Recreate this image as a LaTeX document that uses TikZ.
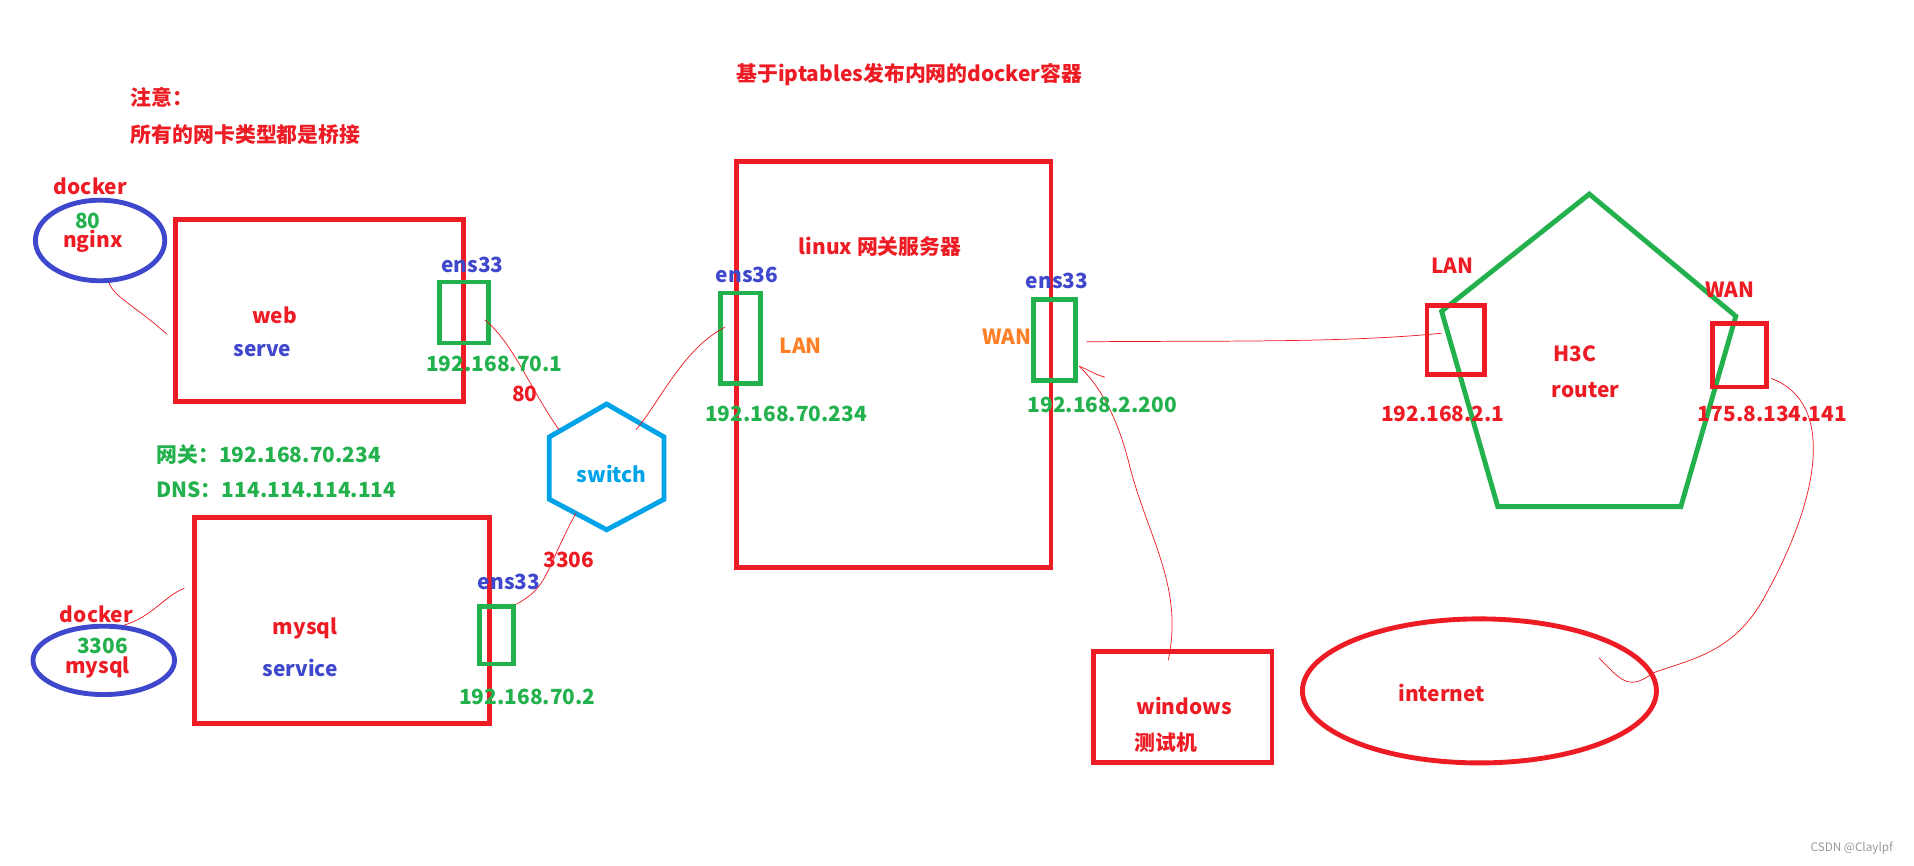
\documentclass[tikz,border=0pt]{standalone}
\usepackage{fontspec}
\setmainfont{Noto Sans CJK SC}
\usetikzlibrary{shapes.geometric}
\definecolor{pred}{HTML}{ED1C24}
\definecolor{pgreen}{HTML}{22B14C}
\definecolor{pblue}{HTML}{3F48CC}
\definecolor{pcyan}{HTML}{00A2E8}
\definecolor{porange}{HTML}{FF7F27}
\begin{document}
\begin{tikzpicture}[
        x = 1pt, y = -1pt,
        box/.style = {draw = pred, line width = 4pt, inner sep = 0mm},
        nic/.style = {draw = pgreen, line width = 4pt, inner sep = 0mm},
        port/.style = {draw = pred, line width = 4pt, inner sep = 0mm},
        oval/.style = {draw, ellipse, line width = 4pt, inner sep = 0mm},
        wire/.style = {draw = pred, line width = 0.6pt},
        txt/.style = {inner sep = 0mm, font = \fontsize{17.1}{20}\selectfont\bfseries},
        rt/.style = {txt, text = pred},
        gt/.style = {txt, text = pgreen},
        bt/.style = {txt, text = pblue},
        ot/.style = {txt, text = porange},
    ]
    \useasboundingbox (0,0) rectangle (1568,709);

    % boxes
    \node (web) [box, minimum width = 236pt, minimum height = 149pt] at (262,254.5){};
    \node (db) [box, minimum width = 242pt, minimum height = 169pt] at (280,508.5){};
    \node (gw) [box, minimum width = 258pt, minimum height = 333pt] at (732,298.5){};
    \node (win) [box, minimum width = 146pt, minimum height = 91pt] at (969,579.5){};
    \node (net) [oval, draw = pred, minimum width = 290pt, minimum height = 118pt] at (1212,566){};
    \node (nginx) [oval, draw = pblue, minimum width = 106pt, minimum height = 66pt] at (82,197){};
    \node (dbdocker) [oval, draw = pblue, minimum width = 116pt, minimum height = 56pt] at (85,541){};

    % switch and router
    \draw[pcyan, line width = 4pt] (497,331) -- (544,358) -- (544,409) -- (497,434) -- (450,409) -- (450,358) -- cycle;
    \draw[pgreen, line width = 4pt] (1302,159) -- (1422,259) -- (1377,415) -- (1227,415) -- (1181,255) -- cycle;

    % network cards
    \node (nicweb) [nic, minimum width = 40pt, minimum height = 50pt] at (380,256){};
    \node (nicdb) [nic, minimum width = 28pt, minimum height = 47pt] at (407,520.5){};
    \node (niclan) [nic, minimum width = 33pt, minimum height = 74pt] at (606.5,277){};
    \node (nicwan) [nic, minimum width = 34pt, minimum height = 67pt] at (864,278.5){};
    \node (rlan) [port, minimum width = 47pt, minimum height = 57pt] at (1192.5,278.5){};
    \node (rwan) [port, minimum width = 44pt, minimum height = 52pt] at (1425,291){};

    % free ends
    \coordinate (webin) at (137,274);
    \coordinate (swnw) at (458,352);
    \coordinate (swne) at (521,352);
    \coordinate (swsw) at (472,420);
    \coordinate (lanin) at (594,268);
    \coordinate (wanout) at (890,280);
    \coordinate (lanrin) at (1181,273);
    \coordinate (wanin) at (884,300);
    \coordinate (winout) at (957,541);
    \coordinate (hook) at (905,309);
    \coordinate (netin) at (1310,539);
    \coordinate (dbin) at (151,482);
    \coordinate (rwanout) at (1451,310);

    % connectors
    \path[wire] (nginx.282) .. controls (93,243) and (110,250) .. (webin);
    \path[wire] (397,262) .. controls (420,280) and (435,320) .. (swnw);
    \path[wire] (swne) .. controls (540,330) and (560,285) .. (lanin);
    \path[wire] (nicdb.north east) .. controls (450,480) and (445,470) .. (swsw);
    \path[wire] (dbdocker.60) .. controls (125,505) and (135,488) .. (dbin);
    \path[wire] (wanout) .. controls (1000,279) and (1100,281) .. (lanrin);
    \path[wire] (winout) .. controls (970,480) and (940,440) .. (925,380) .. controls (915,340) and (900,315) .. (wanin);
    \path[wire] (wanin) .. controls (890,302) and (895,306) .. (hook);
    \path[wire] (rwanout) .. controls (1505,330) and (1490,410) .. (1445,490) .. controls (1420,535) and (1385,540) .. (1355,551) .. controls (1335,565) and (1330,560) .. (netin);

    % labels
    \node (title) [rt] at (745,61) {基于iptables发布内网的docker容器};
    \node (note) [rt, anchor = west] at (107,80) {注意：};
    \node (notea) [rt, anchor = west] at (107,110) {所有的网卡类型都是桥接};

    \node (ldocker) [rt] at (74,153) {docker};
    \node (lport) [gt] at (72,181) {80};
    \node (lnginx) [rt] at (76,198) {nginx};
    \node (lweb) [rt] at (225,258) {web};
    \node (lserve) [bt] at (215,287) {serve};
    \node (lensa) [bt] at (387,217) {ens33};
    \node (lipa) [gt] at (405,298) {192.168.70.1};
    \node (lpa) [rt] at (430,323) {80};

    \node (lgate) [gt, anchor = west] at (128,372) {网关：192.168.70.234};
    \node (ldns) [gt, anchor = west] at (128,401) {DNS：114.114.114.114};
    \node (ldockerb) [rt] at (79,503) {docker};
    \node (lportb) [gt] at (84,529) {3306};
    \node (lmysqlb) [rt] at (80,547) {mysql};
    \node (lmysql) [rt] at (250,515) {mysql};
    \node (lservice) [bt] at (246,547) {service};
    \node (lensb) [bt] at (417,477) {ens33};
    \node (lipb) [gt] at (432,571) {192.168.70.2};
    \node (lpb) [rt] at (466,459) {3306};

    \node (lswitch) [txt, text = pcyan] at (501,388) {switch};

    \node (lgw) [rt] at (721,202) {linux 网关服务器};
    \node (lensc) [bt] at (612,225) {ens36};
    \node (llan) [ot] at (656,283) {LAN};
    \node (lwan) [ot] at (825,276) {WAN};
    \node (lensd) [bt] at (866,230) {ens33};
    \node (lipc) [gt] at (644,339) {192.168.70.234};
    \node (lipd) [gt] at (903,332) {192.168.2.200};

    \node (lrlan) [rt] at (1190,218) {LAN};
    \node (lrwan) [rt] at (1417,237) {WAN};
    \node (lh3c) [rt] at (1290,290) {H3C};
    \node (lrouter) [rt] at (1299,320) {router};
    \node (lipe) [rt] at (1182,339) {192.168.2.1};
    \node (lipf) [rt] at (1452,339) {175.8.134.141};

    \node (lwin) [rt] at (970,578) {windows};
    \node (ltest) [rt] at (955,608) {测试机};
    \node (lnet) [rt] at (1181,568) {internet};
    \node (mark) [inner sep = 0mm, text = gray!80, font = \fontsize{9.6}{12}\selectfont] at (1517,695) {CSDN @Claylpf};
\end{tikzpicture}
\end{document}
